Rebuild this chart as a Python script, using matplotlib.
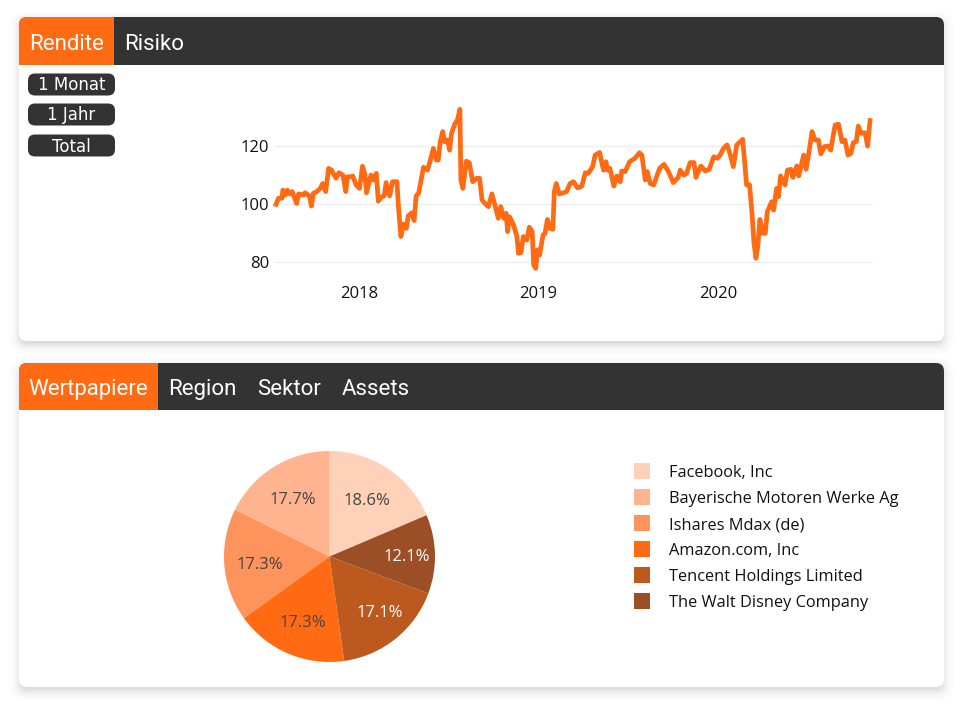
import matplotlib
matplotlib.use("Agg")
import matplotlib.pyplot as plt
from matplotlib.patches import FancyBboxPatch, Rectangle

W, H = 966, 707

# line chart, x in days since 2018-01-01
days = [
    -169, -164, -157, -155, -150, -146, -140, -136, -131, -127, -123, -113, -110, -101, -97, -93, -86, -79, -74, -68,
    -62, -56, -47, -41, -33, -27, -24, -17, -13, -6, 1, 7, 12, 15, 24, 29, 35, 39, 46, 51,
    55, 62, 68, 77, 80, 85, 90, 96, 100, 107, 112, 116, 121, 131, 139, 144, 151, 157, 161, 165,
    170, 174, 180, 184, 188, 195, 200, 205, 207, 211, 218, 224, 231, 239, 245, 250, 256, 263, 270, 277,
    283, 288, 294, 299, 302, 306, 314, 321, 324, 329, 334, 341, 346, 352, 355, 359, 363, 367, 374, 378,
    383, 388, 394, 397, 401, 407, 416, 422, 429, 436, 444, 453, 460, 466, 475, 480, 489, 497, 502, 505,
    510, 518, 524, 531, 534, 541, 550, 561, 570, 575, 582, 586, 592, 599, 611, 620, 629, 639, 649, 653,
    660, 666, 673, 681, 685, 695, 704, 712, 721, 729, 734, 741, 748, 754, 761, 768, 780, 788, 794, 799,
    803, 807, 811, 815, 821, 826, 830, 839, 843, 849, 853, 857, 866, 871, 878, 882, 890, 894, 904, 909,
    916, 921, 927, 934, 939, 946, 954, 959, 968, 975, 982, 988, 994, 1000, 1005, 1011, 1015, 1021, 1029, 1034,
    1039,
]
rendite = [
    100.0, 102.1, 102.1, 104.9, 103.2, 104.9, 103.6, 104.4, 102.1, 100.3, 103.6, 103.2, 104.0, 102.9, 99.4, 103.8, 104.4, 105.5, 107.2, 104.4,
    112.4, 111.8, 109.0, 110.9, 110.1, 104.4, 109.5, 109.5, 109.8, 106.7, 105.5, 113.2, 110.1, 104.0, 110.1, 108.4, 110.7, 101.1, 102.6, 102.9,
    107.5, 102.9, 107.8, 107.8, 99.2, 88.9, 93.2, 91.7, 96.0, 97.1, 94.4, 102.9, 103.8, 112.8, 111.8, 114.7, 119.3, 115.3, 115.3, 121.6,
    125.1, 121.6, 122.2, 118.7, 124.5, 127.9, 129.1, 132.8, 108.4, 105.5, 114.9, 114.4, 107.8, 109.0, 109.0, 101.5, 100.3, 99.2, 103.6, 99.2,
    95.2, 99.2, 95.2, 96.9, 90.6, 95.7, 92.9, 88.9, 83.1, 83.3, 88.9, 87.7, 92.1, 90.6, 79.1, 77.9, 84.3, 82.5, 89.4, 90.0,
    94.8, 91.7, 91.4, 104.4, 107.2, 103.6, 104.0, 104.4, 107.2, 107.8, 105.7, 106.3, 110.9, 110.7, 113.0, 117.0, 117.9, 111.8, 114.7, 111.8,
    112.4, 106.3, 109.8, 107.8, 111.5, 111.3, 114.7, 115.9, 117.8, 117.0, 108.4, 111.3, 107.2, 106.7, 112.4, 113.8, 111.3, 107.5, 109.3, 111.8,
    110.1, 110.7, 114.4, 114.4, 109.3, 113.2, 111.5, 112.1, 116.4, 115.9, 117.0, 119.3, 120.5, 117.6, 113.0, 120.5, 122.4, 106.7, 106.7, 96.9,
    86.6, 81.4, 86.0, 94.8, 90.0, 90.0, 97.5, 100.9, 98.0, 105.5, 102.6, 109.8, 106.7, 111.8, 112.1, 109.3, 113.2, 109.8, 117.0, 112.1,
    119.3, 125.1, 122.2, 122.2, 117.4, 119.9, 120.1, 118.7, 127.4, 127.6, 121.6, 122.2, 117.0, 117.6, 121.3, 121.6, 127.0, 124.5, 124.7, 120.1,
    128.9,
]
year_ticks = [0, 365, 730]
year_labels = ["2018", "2019", "2020"]
y_ticks = [80, 100, 120]

# pie chart
names = [
    "Facebook, Inc",
    "Bayerische Motoren Werke Ag",
    "Ishares Mdax (de)",
    "Amazon.com, Inc",
    "Tencent Holdings Limited",
    "The Walt Disney Company",
]
shares = [18.6, 17.7, 17.3, 17.3, 17.1, 12.1]
pie_colors = ["#ffd1b9", "#ffb48f", "#ff935c", "#ff6a13", "#bc591e", "#9c4f26"]
label_colors = ["#444444", "#444444", "#444444", "#444444", "#ffffff", "#ffffff"]
# label shift in pixels, plotly sets these a bit off the wedge centre
label_nudge = [(-2, 4), (1, 4), (2, 3), (1, 1), (5, 1), (6, 2)]

ORANGE = "#ff6a13"
DARK = "#333333"
PIE_R = 105.5


def px_axes(fig, left, top, right, bottom):
    return fig.add_axes([left / W, 1 - bottom / H, (right - left) / W, (bottom - top) / H])


def draw_card(ax, top, bottom, head_bottom, tabs):
    left, right, r = 19, 944, 8
    # soft shadow, layers get denser towards the card
    for grow in range(15, -3, -1):
        ax.add_patch(FancyBboxPatch(
            (left - grow, top - grow + 4), right - left + 2 * grow, bottom - top + 2 * grow,
            boxstyle=f"round,pad=0,rounding_size={r + max(grow, 0)}", fc="black", ec="none",
            alpha=0.0012 + 0.02 * ((15 - grow) / 17) ** 2,
        ))
    ax.add_patch(FancyBboxPatch(
        (left, top), right - left, bottom - top,
        boxstyle=f"round,pad=0,rounding_size={r}", fc="white", ec="none",
    ))
    head = FancyBboxPatch(
        (left, top), right - left, (head_bottom - top) * 2,
        boxstyle=f"round,pad=0,rounding_size={r}", fc=DARK, ec="none",
    )
    ax.add_patch(head)
    head.set_clip_path(Rectangle((left, top), right - left, head_bottom - top, transform=ax.transData))

    for i, (label, x0, x1) in enumerate(tabs):
        if i == 0:
            active = FancyBboxPatch(
                (x0, top), x1 - x0 + 20, (head_bottom - top) * 2,
                boxstyle=f"round,pad=0,rounding_size={r}", fc=ORANGE, ec="none",
            )
            ax.add_patch(active)
            active.set_clip_path(Rectangle((x0, top), x1 - x0, head_bottom - top, transform=ax.transData))
        ax.text((x0 + x1) / 2, (top + head_bottom) / 2 + 3, label, color="white",
                family="Roboto", fontsize=16, ha="center", va="center")


fig = plt.figure(figsize=(W / 100, H / 100), dpi=100, facecolor="white")

bg = fig.add_axes([0, 0, 1, 1])
bg.set_xlim(0, W)
bg.set_ylim(H, 0)
bg.axis("off")

draw_card(bg, 17, 341, 65, [("Rendite", 19, 114), ("Risiko", 114, 195)])
draw_card(bg, 363, 687, 410, [("Wertpapiere", 19, 158), ("Region", 158, 247),
                              ("Sektor", 247, 331), ("Assets", 331, 420)])

for label, y in zip(["1 Monat", "1 Jahr", "Total"], [84.5, 114.5, 145.5]):
    bg.add_patch(FancyBboxPatch((28, y - 11), 87, 22, boxstyle="round,pad=0,rounding_size=7",
                                fc=DARK, ec="none"))
    bg.text(71.5, y + 1, label, color="white", family="DejaVu Sans", fontsize=12, ha="center", va="center")

# legend
for i, (name, color) in enumerate(zip(names, pie_colors)):
    y = 471 + i * 26
    bg.add_patch(Rectangle((634, y - 8), 16, 16, fc=color, ec="none"))
    bg.text(669, y + 2, name, color="#111111", family="Open Sans", fontsize=11.75, ha="left", va="center")

# line chart
ax = px_axes(fig, 275, 100, 873, 271)
ax.patch.set_alpha(0)
ax.plot(days, rendite, color=ORANGE, linewidth=3.4, solid_joinstyle="round", clip_on=False, zorder=3)
ax.set_xlim(-171, 1045)
ax.set_ylim(77, 136)
ax.set_xticks(year_ticks)
ax.set_xticklabels(year_labels)
ax.set_yticks(y_ticks)
ax.grid(axis="y", color="#eeeeee", linewidth=1)
ax.tick_params(length=0, labelsize=12, labelcolor="#111111")
ax.tick_params(axis="x", pad=11)
ax.tick_params(axis="y", pad=4)
for label in ax.get_xticklabels() + ax.get_yticklabels():
    label.set_family("Open Sans")
for spine in ax.spines.values():
    spine.set_visible(False)

# pie chart
pie_ax = px_axes(fig, 329.5 - PIE_R, 556.5 - PIE_R, 329.5 + PIE_R, 556.5 + PIE_R)
wedges, _, pct_texts = pie_ax.pie(
    shares,
    colors=pie_colors,
    startangle=90 - shares[0] * 3.6,
    counterclock=True,
    radius=1.0,
    autopct=lambda p: f"{p:.1f}%",
    pctdistance=0.68,
    wedgeprops={"linewidth": 0},
)
pie_ax.set_xlim(-1, 1)
pie_ax.set_ylim(-1, 1)
for text, color, (dx, dy) in zip(pct_texts, label_colors, label_nudge):
    text.set_color(color)
    text.set_family("Open Sans")
    text.set_fontsize(12)
    x, y = text.get_position()
    text.set_position((x + dx / PIE_R, y - dy / PIE_R))

fig.savefig("out.png", dpi=100, facecolor="white")
